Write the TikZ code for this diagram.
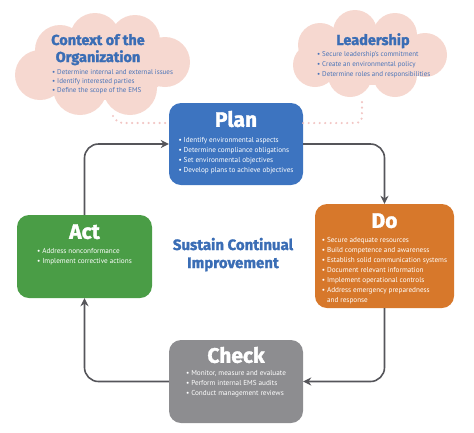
\documentclass[tikz,border=0pt]{standalone}
\usepackage{fontspec}
\setmainfont{PT Sans}
\newfontfamily\headfont[BoldFeatures={FakeBold=1.6}]{Fira Sans}
\usetikzlibrary{positioning,arrows.meta}
\definecolor{planblue}{HTML}{3D74C0}
\definecolor{doorange}{HTML}{D7782B}
\definecolor{actgreen}{HTML}{4A9D46}
\definecolor{checkgray}{HTML}{8D8D90}
\definecolor{cloudpink}{HTML}{F6D8D0}
\definecolor{titleblue}{HTML}{3A6DB5}
\definecolor{itemblue}{HTML}{4A74B8}
\definecolor{arrowgray}{HTML}{55555A}
\definecolor{dotpink}{HTML}{F2C6C4}
\newcommand{\itm}{\textbullet\ }

\begin{document}
\begin{tikzpicture}[x=1pt,y=-1pt,
	box/.style={rounded corners=12pt, inner sep=0pt},
	head/.style={anchor=base, text=white, font=\headfont\bfseries\fontsize{21}{21}\selectfont},
	items/.style={anchor=north, align=left, text=white, inner sep=0pt, font=\fontsize{7.2}{10}\selectfont},
	cloudhead/.style={anchor=base, text=titleblue, font=\headfont\bfseries\fontsize{14.5}{17}\selectfont},
	clouditems/.style={anchor=north west, align=left, text=itemblue, inner sep=0pt},
	cycle/.style={draw=arrowgray, line width=1.6pt, rounded corners=14pt, -{Stealth[length=8pt,width=8pt]}},
	dots/.style={draw=dotpink, line width=2.4pt, line cap=round, dash pattern=on 0pt off 5.5pt}]
	\useasboundingbox (0,0) rectangle (474,432);

	% clouds
	\begin{scope}[fill=cloudpink]
	\fill (103,65) ellipse [x radius=70pt, y radius=35pt];
	\fill (60,50) circle (25pt);
	\fill (95,38) circle (25pt);
	\fill (135,40) circle (25pt);
	\fill (165,62) circle (25pt);
	\fill (40,75) circle (25pt);
	\fill (80,88) circle (27pt);
	\fill (130,88) circle (27pt);

	\fill (370,55) ellipse [x radius=60pt, y radius=30pt];
	\fill (320,45) circle (22pt);
	\fill (355,32) circle (22pt);
	\fill (395,35) circle (22pt);
	\fill (425,55) circle (22pt);
	\fill (315,65) circle (22pt);
	\fill (350,75) circle (22pt);
	\fill (395,75) circle (22pt);
	\end{scope}

	\node[cloudhead] (ctxhead) at (98,45) {Context of the};
	\node[cloudhead] (ctxhead2) at (98,62) {Organization};
	\node[clouditems, font=\fontsize{7}{9}\selectfont] (ctxitems) at (52,69)
		{\itm Determine internal and external issues\\ \itm Identify interested parties\\ \itm Define the scope of the EMS};
	\node[cloudhead] (ldrhead) at (373,45) {Leadership};
	\node[clouditems, font=\fontsize{7}{10}\selectfont] (ldritems) at (317,51)
		{\itm Secure leadership's commitment\\ \itm Create an environmental policy\\ \itm Determine roles and responsibilities};

	% boxes
	\node[box, fill=planblue, minimum width=134pt, minimum height=82pt] (plan) at (236,144) {};
	\node[box, fill=doorange, minimum width=139pt, minimum height=104pt] (do) at (384.5,256) {};
	\node[box, fill=actgreen, minimum width=135pt, minimum height=83pt] (act) at (84.5,256.5) {};
	\node[box, fill=checkgray, minimum width=134pt, minimum height=83pt] (check) at (236,381.5) {};

	\node[head] (planhead) at ([yshift=-24pt]plan.north) {Plan};
	\node[head] (dohead) at ([yshift=-24pt]do.north) {Do};
	\node[head] (acthead) at ([yshift=-24pt]act.north) {Act};
	\node[head] (checkhead) at ([yshift=-23pt]check.north) {Check};

	\node[items, below=34pt of plan.north] (planitems)
		{\itm Identify environmental aspects\\ \itm Determine compliance obligations\\ \itm Set environmental objectives\\ \itm Develop plans to achieve objectives};
	\node[items, below=33pt of do.north] (doitems)
		{\itm Secure adequate resources\\ \itm Build competence and awareness\\ \itm Establish solid communication systems\\ \itm Document relevant information\\ \itm Implement operational controls\\ \itm Address emergency preparedness\\ \phantom{\itm}and response};
	\node[items, below=33pt of act.north] (actitems)
		{\itm Address nonconformance\\ \itm Implement corrective actions};
	\node[items, below=30pt of check.north] (checkitems)
		{\itm Monitor, measure and evaluate\\ \itm Perform internal EMS audits\\ \itm Conduct management reviews};

	\node[cloudhead, font=\headfont\bfseries\fontsize{15}{18}\selectfont] (sustain) at (233,250) {Sustain Continual};
	\node[cloudhead, font=\headfont\bfseries\fontsize{15}{18}\selectfont] (sustain2) at (233,268) {Improvement};

	% cycle arrows
	\draw[cycle] (plan.east) -| (do.north);
	\draw[cycle] (do.south) |- (check.east);
	\draw[cycle] (check.west) -| (act.south);
	\draw[cycle] (act.north) |- (plan.west);

	% dotted links to the clouds
	\coordinate (dotrow) at (0,123);
	\coordinate (ctxtail) at (113,116);
	\coordinate (ldrtail) at (362,97);
	\draw[dots] (ctxtail) .. controls (118,123) .. (128,123) -- (plan.west |- dotrow);
	\draw[dots] (plan.east |- dotrow) -- (349,123) .. controls (362,123) .. (362,110) -- (ldrtail);
\end{tikzpicture}
\end{document}
